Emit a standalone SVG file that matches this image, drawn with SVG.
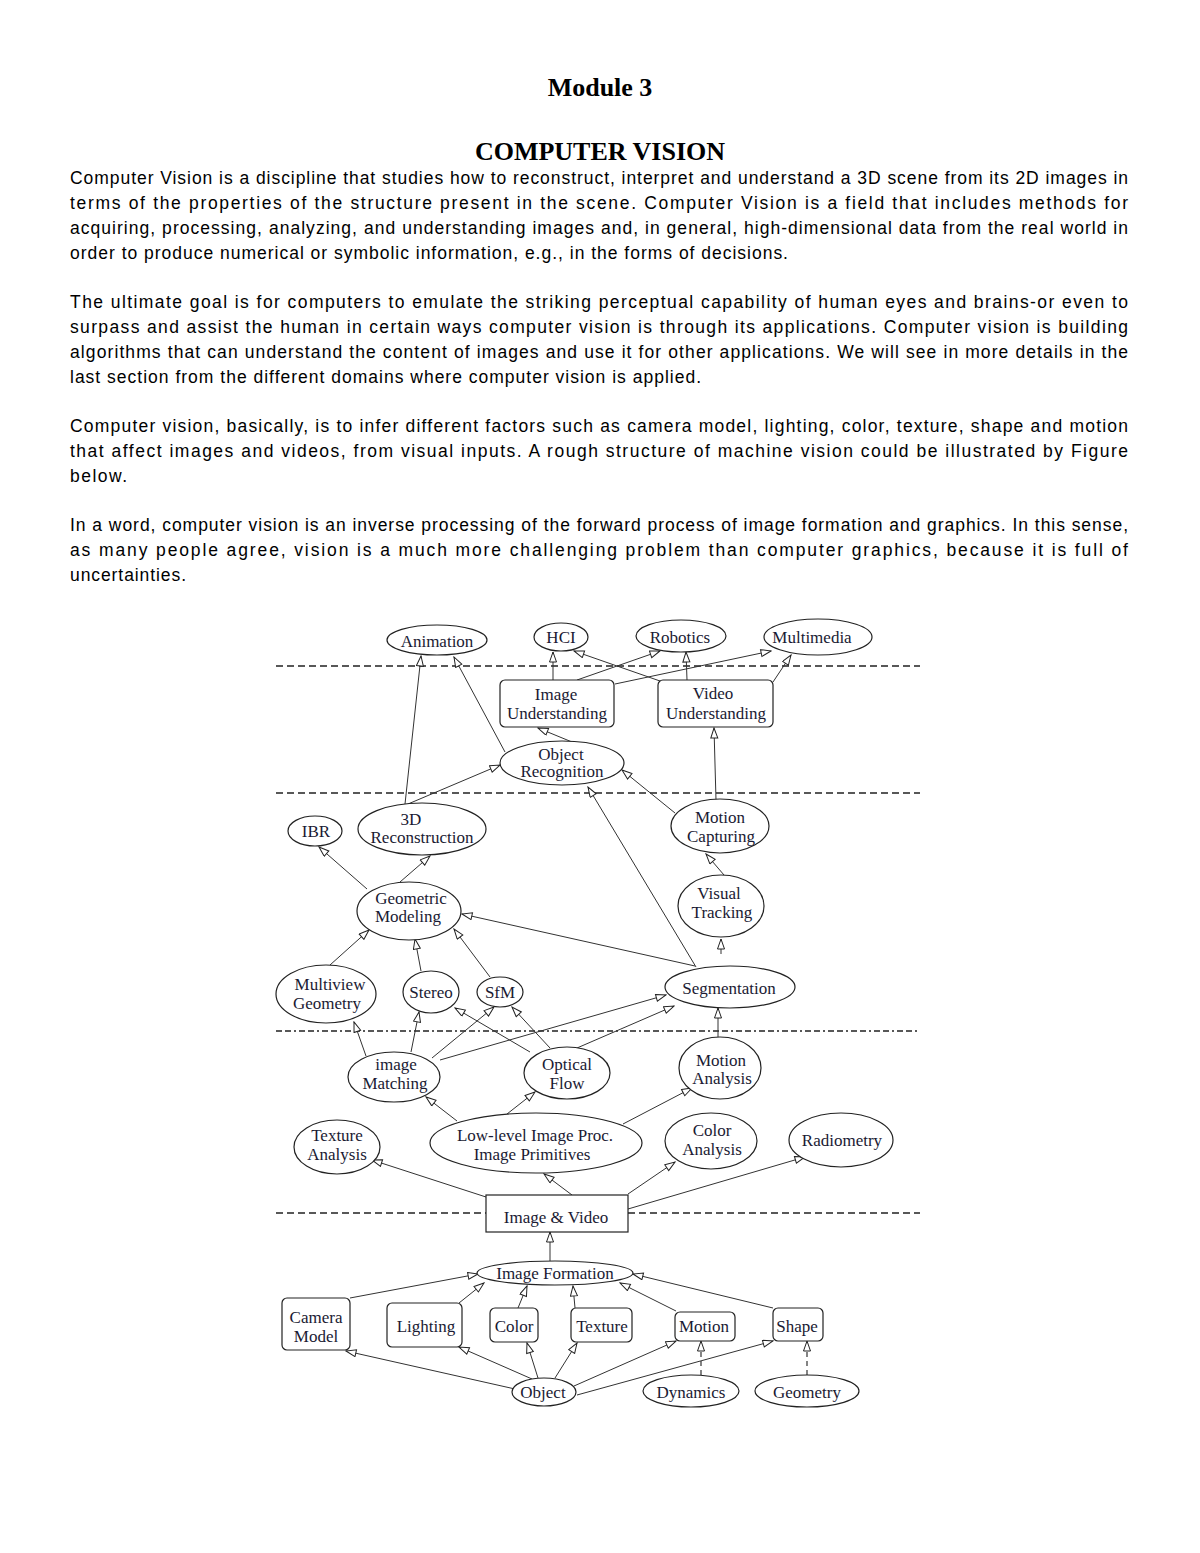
<svg xmlns="http://www.w3.org/2000/svg" width="1200" height="1553" viewBox="0 0 1200 1553">
<style>
.bg{fill:#fff}
.h{font-family:"Liberation Serif","Times New Roman",serif;font-weight:bold;font-size:26px;fill:#000;text-anchor:middle}
.p{font-family:"Liberation Sans",Arial,sans-serif;font-size:17.5px;fill:#000}
.n{fill:#fff;stroke:#222;stroke-width:1.2}
.t{font-family:"Liberation Serif","Times New Roman",serif;font-size:17px;fill:#1a1a33;text-anchor:middle;dominant-baseline:central}
.e{fill:none;stroke:#333;stroke-width:1;marker-end:url(#a)}
.ed{fill:none;stroke:#333;stroke-width:1.2;stroke-dasharray:5,4;marker-end:url(#a)}
.sep{fill:none;stroke:#222;stroke-width:1.4;stroke-dasharray:7,4}
.sep2{fill:none;stroke:#222;stroke-width:1.4;stroke-dasharray:6,3,6,3,2,3}
</style>
<defs>
<marker id="a" markerUnits="userSpaceOnUse" markerWidth="12" markerHeight="9" refX="11" refY="4" orient="auto">
<path d="M1,0.5 L11,4 L1,7.5 z" fill="#fff" stroke="#222" stroke-width="1"/>
</marker>
</defs>
<rect class="bg" x="0" y="0" width="1200" height="1553"/>

<g id="header">
<text class="h" x="600" y="96">Module 3</text>
<text class="h" x="600" y="160">COMPUTER VISION</text>
</g>

<g id="body">
<text class="p" x="70" y="184" textLength="1058" lengthAdjust="spacing">Computer Vision is a discipline that studies how to reconstruct, interpret and understand a 3D scene from its 2D images in</text>
<text class="p" x="70" y="209" textLength="1058" lengthAdjust="spacing">terms of the properties of the structure present in the scene. Computer Vision is a field that includes methods for</text>
<text class="p" x="70" y="234" textLength="1058" lengthAdjust="spacing">acquiring, processing, analyzing, and understanding images and, in general, high-dimensional data from the real world in</text>
<text class="p" x="70" y="259" textLength="718" lengthAdjust="spacing">order to produce numerical or symbolic information, e.g., in the forms of decisions.</text>

<text class="p" x="70" y="308" textLength="1058" lengthAdjust="spacing">The ultimate goal is for computers to emulate the striking perceptual capability of human eyes and brains-or even to</text>
<text class="p" x="70" y="333" textLength="1058" lengthAdjust="spacing">surpass and assist the human in certain ways computer vision is through its applications. Computer vision is building</text>
<text class="p" x="70" y="358" textLength="1058" lengthAdjust="spacing">algorithms that can understand the content of images and use it for other applications. We will see in more details in the</text>
<text class="p" x="70" y="383" textLength="631" lengthAdjust="spacing">last section from the different domains where computer vision is applied.</text>

<text class="p" x="70" y="432" textLength="1058" lengthAdjust="spacing">Computer vision, basically, is to infer different factors such as camera model, lighting, color, texture, shape and motion</text>
<text class="p" x="70" y="457" textLength="1058" lengthAdjust="spacing">that affect images and videos, from visual inputs. A rough structure of machine vision could be illustrated by Figure</text>
<text class="p" x="70" y="482" textLength="57" lengthAdjust="spacing">below.</text>

<text class="p" x="70" y="531" textLength="1058" lengthAdjust="spacing">In a word, computer vision is an inverse processing of the forward process of image formation and graphics. In this sense,</text>
<text class="p" x="70" y="556" textLength="1058" lengthAdjust="spacing">as many people agree, vision is a much more challenging problem than computer graphics, because it is full of</text>
<text class="p" x="70" y="581" textLength="116" lengthAdjust="spacing">uncertainties.</text>
</g>

<g id="separators">
<line class="sep" x1="276" y1="666" x2="920" y2="666"/>
<line class="sep" x1="276" y1="793" x2="920" y2="793"/>
<line class="sep2" x1="276" y1="1031" x2="920" y2="1031"/>
<line class="sep" x1="276" y1="1213" x2="486" y2="1213"/>
<line class="sep" x1="628" y1="1213" x2="920" y2="1213"/>
</g>

<g id="connectors">
<line class="e" x1="405" y1="804" x2="421" y2="656"/>
<line class="e" x1="505" y1="752" x2="454" y2="657"/>
<line class="e" x1="408" y1="804" x2="500" y2="765"/>
<line class="e" x1="553" y1="680" x2="553" y2="652"/>
<line class="e" x1="577" y1="680" x2="660" y2="651"/>
<line class="e" x1="615" y1="684" x2="771" y2="651"/>
<line class="e" x1="660" y1="681" x2="574" y2="651"/>
<line class="e" x1="687" y1="680" x2="686" y2="652"/>
<line class="e" x1="773" y1="682" x2="791" y2="655"/>
<line class="e" x1="572" y1="742" x2="538" y2="728"/>
<line class="e" x1="716" y1="800" x2="714" y2="728"/>
<line class="e" x1="675" y1="813" x2="622" y2="770"/>
<line class="e" x1="696" y1="967" x2="588" y2="787"/>
<line class="e" x1="367" y1="889" x2="319" y2="847"/>
<line class="e" x1="400" y1="882" x2="430" y2="856"/>
<line class="e" x1="695" y1="966" x2="462" y2="914"/>
<line class="e" x1="330" y1="965" x2="369" y2="930"/>
<line class="e" x1="421" y1="971" x2="415" y2="939"/>
<line class="e" x1="490" y1="977" x2="454" y2="929"/>
<line class="e" x1="724" y1="875" x2="706" y2="854"/>
<line class="e" x1="721" y1="954" x2="721" y2="939"/>
<line class="e" x1="718" y1="1037" x2="718" y2="1008"/>
<line class="e" x1="366" y1="1056" x2="354" y2="1022"/>
<line class="e" x1="411" y1="1052" x2="419" y2="1012"/>
<line class="e" x1="432" y1="1058" x2="494" y2="1007"/>
<line class="e" x1="440" y1="1060" x2="666" y2="995"/>
<line class="e" x1="530" y1="1052" x2="455" y2="1008"/>
<line class="e" x1="550" y1="1048" x2="512" y2="1007"/>
<line class="e" x1="577" y1="1048" x2="674" y2="1006"/>
<line class="e" x1="457" y1="1121" x2="426" y2="1097"/>
<line class="e" x1="507" y1="1114" x2="535" y2="1092"/>
<line class="e" x1="623" y1="1124" x2="692" y2="1088"/>
<line class="e" x1="486" y1="1197" x2="372" y2="1160"/>
<line class="e" x1="572" y1="1195" x2="544" y2="1174"/>
<line class="e" x1="628" y1="1194" x2="675" y2="1162"/>
<line class="e" x1="628" y1="1209" x2="805" y2="1157"/>
<line class="e" x1="550" y1="1261" x2="550" y2="1232"/>
<line class="e" x1="350" y1="1298" x2="478" y2="1274"/>
<line class="e" x1="459" y1="1303" x2="484" y2="1283"/>
<line class="e" x1="518" y1="1308" x2="527" y2="1286"/>
<line class="e" x1="575" y1="1308" x2="573" y2="1286"/>
<line class="e" x1="676" y1="1311" x2="620" y2="1283"/>
<line class="e" x1="773" y1="1308" x2="633" y2="1274"/>
<line class="e" x1="515" y1="1389" x2="346" y2="1351"/>
<line class="e" x1="532" y1="1379" x2="459" y2="1347"/>
<line class="e" x1="538" y1="1378" x2="527" y2="1343"/>
<line class="e" x1="555" y1="1378" x2="577" y2="1343"/>
<line class="e" x1="574" y1="1386" x2="676" y2="1341"/>
<line class="e" x1="577" y1="1395" x2="773" y2="1341"/>
<line class="ed" x1="701" y1="1375" x2="701" y2="1341"/>
<line class="ed" x1="807" y1="1375" x2="807" y2="1341"/>
</g>

<g id="animation"><ellipse class="n" cx="437" cy="640" rx="50" ry="15"/><text class="t" x="437" y="641">Animation</text></g>
<g id="hci"><ellipse class="n" cx="561" cy="637" rx="27" ry="14"/><text class="t" x="561" y="637">HCI</text></g>
<g id="robotics"><ellipse class="n" cx="681" cy="636" rx="45" ry="16"/><text class="t" x="680" y="637">Robotics</text></g>
<g id="multimedia"><ellipse class="n" cx="818" cy="637" rx="54" ry="18"/><text class="t" x="812" y="637">Multimedia</text></g>
<g id="image-understanding"><rect class="n" x="500" y="680" width="114" height="47" rx="5"/><text class="t" x="556" y="694">Image</text><text class="t" x="557" y="713">Understanding</text></g>
<g id="video-understanding"><rect class="n" x="658" y="680" width="115" height="47" rx="5"/><text class="t" x="713" y="693">Video</text><text class="t" x="716" y="713">Understanding</text></g>
<g id="object-recognition"><ellipse class="n" cx="562" cy="763" rx="62" ry="22"/><text class="t" x="561" y="754">Object</text><text class="t" x="562" y="771">Recognition</text></g>
<g id="ibr"><ellipse class="n" cx="315" cy="831" rx="27" ry="15"/><text class="t" x="316" y="831">IBR</text></g>
<g id="reconstruction"><ellipse class="n" cx="422" cy="829" rx="64" ry="26"/><text class="t" x="411" y="819">3D</text><text class="t" x="422" y="837">Reconstruction</text></g>
<g id="motion-capturing"><ellipse class="n" cx="720" cy="826" rx="49" ry="27"/><text class="t" x="720" y="817">Motion</text><text class="t" x="721" y="836">Capturing</text></g>
<g id="geometric-modeling"><ellipse class="n" cx="409" cy="911" rx="52" ry="29"/><text class="t" x="411" y="898">Geometric</text><text class="t" x="408" y="916">Modeling</text></g>
<g id="visual-tracking"><ellipse class="n" cx="721" cy="906" rx="43" ry="31"/><text class="t" x="719" y="893">Visual</text><text class="t" x="722" y="912">Tracking</text></g>
<g id="multiview-geometry"><ellipse class="n" cx="326" cy="994" rx="50" ry="29"/><text class="t" x="330" y="984">Multiview</text><text class="t" x="327" y="1003">Geometry</text></g>
<g id="stereo"><ellipse class="n" cx="431" cy="992" rx="28" ry="21"/><text class="t" x="431" y="992">Stereo</text></g>
<g id="sfm"><ellipse class="n" cx="500" cy="992" rx="23" ry="15"/><text class="t" x="500" y="992">SfM</text></g>
<g id="segmentation"><ellipse class="n" cx="730" cy="987" rx="65" ry="21"/><text class="t" x="729" y="988">Segmentation</text></g>
<g id="image-matching"><ellipse class="n" cx="394" cy="1077" rx="46" ry="25"/><text class="t" x="396" y="1064">image</text><text class="t" x="395" y="1083">Matching</text></g>
<g id="optical-flow"><ellipse class="n" cx="567" cy="1073" rx="43" ry="26"/><text class="t" x="567" y="1064">Optical</text><text class="t" x="567" y="1083">Flow</text></g>
<g id="motion-analysis"><ellipse class="n" cx="720" cy="1068" rx="41" ry="31"/><text class="t" x="721" y="1060">Motion</text><text class="t" x="722" y="1078">Analysis</text></g>
<g id="texture-analysis"><ellipse class="n" cx="337" cy="1147" rx="43" ry="27"/><text class="t" x="337" y="1135">Texture</text><text class="t" x="337" y="1154">Analysis</text></g>
<g id="low-level"><ellipse class="n" cx="536" cy="1143" rx="106" ry="30"/><text class="t" x="535" y="1135">Low-level Image Proc.</text><text class="t" x="532" y="1154">Image Primitives</text></g>
<g id="color-analysis"><ellipse class="n" cx="711" cy="1141" rx="46" ry="28"/><text class="t" x="712" y="1130">Color</text><text class="t" x="712" y="1149">Analysis</text></g>
<g id="radiometry"><ellipse class="n" cx="841" cy="1140" rx="52" ry="27"/><text class="t" x="842" y="1140">Radiometry</text></g>
<g id="image-video"><rect class="n" x="486" y="1195" width="142" height="37"/><text class="t" x="556" y="1217">Image &amp; Video</text></g>
<g id="image-formation"><ellipse class="n" cx="555" cy="1273" rx="78" ry="12"/><text class="t" x="555" y="1273">Image Formation</text></g>
<g id="camera-model"><rect class="n" x="282" y="1298" width="68" height="52" rx="5"/><text class="t" x="316" y="1317">Camera</text><text class="t" x="316" y="1336">Model</text></g>
<g id="lighting"><rect class="n" x="387" y="1303" width="75" height="44" rx="5"/><text class="t" x="426" y="1326">Lighting</text></g>
<g id="color"><rect class="n" x="490" y="1308" width="48" height="34" rx="5"/><text class="t" x="514" y="1326">Color</text></g>
<g id="texture"><rect class="n" x="571" y="1308" width="61" height="34" rx="5"/><text class="t" x="602" y="1326">Texture</text></g>
<g id="motion"><rect class="n" x="675" y="1312" width="60" height="29" rx="5"/><text class="t" x="704" y="1326">Motion</text></g>
<g id="shape"><rect class="n" x="773" y="1308" width="50" height="33" rx="5"/><text class="t" x="797" y="1326">Shape</text></g>
<g id="object"><ellipse class="n" cx="544" cy="1392" rx="32" ry="14"/><text class="t" x="543" y="1392">Object</text></g>
<g id="dynamics"><ellipse class="n" cx="691" cy="1391" rx="48" ry="16"/><text class="t" x="691" y="1392">Dynamics</text></g>
<g id="geometry"><ellipse class="n" cx="807" cy="1391" rx="52" ry="16"/><text class="t" x="807" y="1392">Geometry</text></g>
</svg>
